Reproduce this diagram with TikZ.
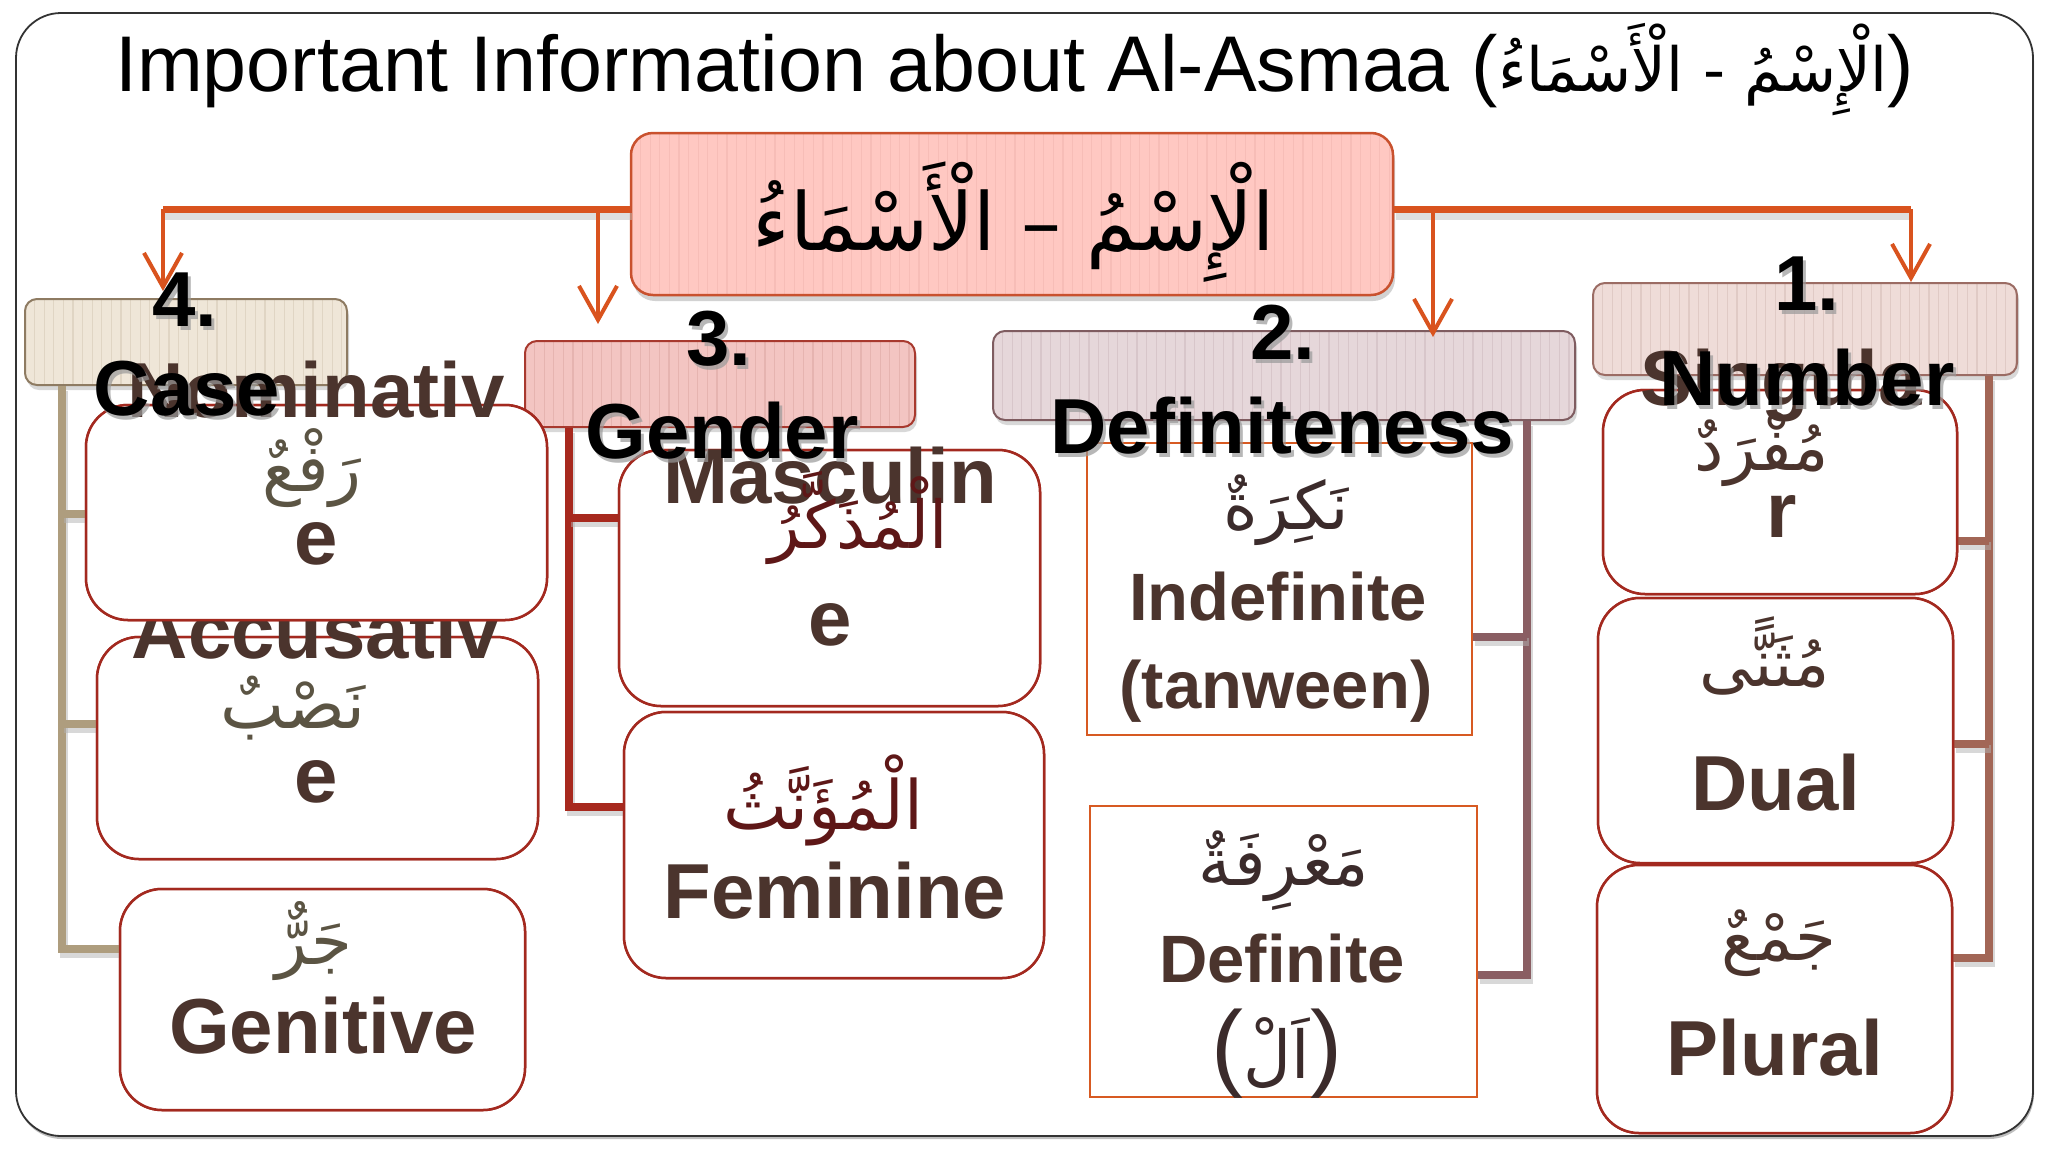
\documentclass[tikz,border=0pt]{standalone}
\usepackage{fontspec}
\setmainfont{Liberation Sans}
\newfontfamily\arabicfont[Script=Arabic]{DejaVu Sans}
\TeXXeTstate=1
\usetikzlibrary{arrows.meta,shadows,fit}
\definecolor{orangeC}{HTML}{D9531E}
\definecolor{mainFill}{HTML}{FFC8C2}
\definecolor{mainDraw}{HTML}{C9512E}
\definecolor{mainStripe}{HTML}{F7BDB7}
\definecolor{caseFill}{HTML}{EFE6D8}
\definecolor{caseDraw}{HTML}{8E7B62}
\definecolor{caseStripe}{HTML}{E0D5C4}
\definecolor{genFill}{HTML}{F3C5C2}
\definecolor{genDraw}{HTML}{A8392E}
\definecolor{genStripe}{HTML}{E6B4B0}
\definecolor{defFill}{HTML}{E6D7DA}
\definecolor{defDraw}{HTML}{7F5C60}
\definecolor{defStripe}{HTML}{D8C6CA}
\definecolor{numFill}{HTML}{EFDCD8}
\definecolor{numDraw}{HTML}{9B6C64}
\definecolor{numStripe}{HTML}{E0CAC5}
\definecolor{caseC}{HTML}{AE9D7E}
\definecolor{genC}{HTML}{A7291E}
\definecolor{defC}{HTML}{8A5E63}
\definecolor{numC}{HTML}{A26656}
\definecolor{boxDraw}{HTML}{A3291F}
\definecolor{sqDraw}{HTML}{D75A22}
\definecolor{txtBrown}{HTML}{4B342D}
\definecolor{arCase}{HTML}{5B5443}
\definecolor{arGen}{HTML}{5E1717}
\definecolor{arDef}{HTML}{3B2B2B}
\definecolor{arNum}{HTML}{4B342D}
\newcommand\hdrfont{\fontsize{78pt}{80pt}\selectfont\bfseries}
\newcommand\chfont{\fontsize{78pt}{80pt}\selectfont\bfseries}
\newcommand\chsfont{\fontsize{67pt}{70pt}\selectfont\bfseries}
\newcommand\titlefont{\fontsize{79pt}{82pt}\selectfont}
\newcommand\arsz[1]{\arabicfont\fontsize{#1}{#1}\selectfont}
\newcommand\parsz{\fontsize{96pt}{96pt}\selectfont}
\newcommand\htext[4]{\node[hdrtxt,text=black!40,opacity=0.7] (#1s) at (#2+3,#3+4) {#4};\node[hdrtxt] (#1) at (#2,#3) {#4};}
\begin{document}
\begin{tikzpicture}[x=1pt,y=-1pt,line join=miter,
  hdrtxt/.style={font=\hdrfont,anchor=base,inner sep=0pt,text=black},
  ctx/.style={font=\chfont,anchor=base,inner sep=0pt,text=txtBrown},
  csx/.style={font=\chsfont,anchor=base,inner sep=0pt,text=txtBrown},
  arx/.style={anchor=center,inner sep=0pt},
  stripes/.style={path picture={\foreach \k in {0,...,80}{\draw[draw=#1,line width=1.3pt] ([xshift=\k*9.6pt]path picture bounding box.north west) -- ([xshift=\k*9.6pt]path picture bounding box.south west);}}},
  hdr/.style 2 args={draw=#1,fill=#2,line width=2pt,rounded corners=12pt,inner sep=0pt,drop shadow={opacity=0.3,shadow xshift=2pt,shadow yshift=-5pt}},
  cbox/.style={draw=boxDraw,fill=white,line width=2.5pt,rounded corners=42pt,inner sep=0pt},
  sbox/.style={draw=sqDraw,fill=white,line width=2.5pt,inner sep=0pt},
  conn/.style={draw=#1,line width=8pt,preaction={draw=black!30,line width=8pt,opacity=0.5,transform canvas={xshift=2pt,yshift=-5pt}}},
  topbar/.style={draw=orangeC,line width=7pt,preaction={draw=black!25,line width=7pt,opacity=0.5,transform canvas={xshift=2pt,yshift=-7pt}}},
  toparr/.style={draw=orangeC,line width=4pt,-{Straight Barb[length=34pt,width=38pt,line width=4pt]}}
]
\fill[white] (0,0) rectangle (2048,1152);
\useasboundingbox (0,0) rectangle (2048,1152);
% outer frame
\draw[black!80,line width=1.8pt,fill=white,rounded corners=45pt,drop shadow={opacity=0.5,shadow xshift=1pt,shadow yshift=-3pt}] (16,13) rectangle (2033,1136);
% title
\node[anchor=base west,inner sep=0pt,font=\titlefont] (title) at (115,91) {Important Information about Al-Asmaa ({\arsz{61pt}\beginR الْإِسْمُ - الْأَسْمَاءُ\endR})};
% main box
\node[fit={(631,133) (1393,295)},draw=mainDraw,fill=mainFill,line width=2.5pt,rounded corners=22pt,inner sep=0pt,drop shadow={opacity=0.35,shadow xshift=2pt,shadow yshift=-6pt},stripes=mainStripe] (main) {};
\node[arx] (mainar) at (1014,222) {\arsz{80pt}\beginR الْإِسْمُ – الْأَسْمَاءُ\endR};
% junction coordinates
\coordinate (hL) at (163,209);
\coordinate (hG) at (598,209);
\coordinate (hD) at (1433,209);
\coordinate (hR) at (1911,209);
\coordinate (c1) at (62,514);
\coordinate (c2) at (62,724);
\coordinate (c3) at (62,949);
\coordinate (g1) at (569,518);
\coordinate (g2) at (569,807);
\coordinate (d1) at (1527,637);
\coordinate (d2) at (1527,975);
\coordinate (n1) at (1989,541);
\coordinate (n2) at (1989,744);
\coordinate (n3) at (1989,958);
% header boxes
\node[hdr={caseDraw}{caseFill},stripes=caseStripe,fit={(25,299) (347,385)}] (casehdr) {};
\node[hdr={genDraw}{genFill},stripes=genStripe,fit={(525,341) (915,427)}] (genhdr) {};
\node[hdr={defDraw}{defFill},stripes=defStripe,fit={(993,331) (1575,420)}] (defhdr) {};
\node[hdr={numDraw}{numFill},stripes=numStripe,fit={(1593,283) (2017,375)}] (numhdr) {};
% top connectors
\draw[topbar] (main.west |- hL) -- (hL);
\draw[topbar] (main.east |- hR) -- (hR);
\draw[toparr,shorten >=7pt] (hL) -- (hL |- casehdr.north);
\draw[toparr,shorten >=16pt] (hG) -- (hG |- genhdr.north);
\draw[toparr,shorten >=-7pt] (hD) -- (hD |- defhdr.north);
\draw[toparr] (hR) -- (hR |- numhdr.north);
% child boxes (placed first so connectors can reference them)
\node[cbox,fit={(97,637) (538,859)}] (acc) {};
\node[cbox,fit={(120,889) (525,1110)}] (gen) {};
\node[cbox,fit={(86,405) (547,620)}] (nom) {};
\node[cbox,fit={(619,450) (1040,706)}] (masc) {};
\node[cbox,fit={(624,712) (1044,978)}] (fem) {};
\node[sbox,fit={(1087,443) (1472,735)}] (indef) {};
\node[sbox,fit={(1090,806) (1477,1097)}] (defn) {};
\node[cbox,fit={(1603,390) (1957,594)}] (sing) {};
\node[cbox,fit={(1598,598) (1953,863)}] (dual) {};
\node[cbox,fit={(1597,865) (1952,1133)}] (plural) {};
% child connectors
\draw[conn=caseC] (casehdr.south -| c1) -- (c3) -- (gen.west |- c3);
\draw[conn=caseC] (c1) -- (nom.west |- c1);
\draw[conn=caseC] (c2) -- (acc.west |- c2);
\draw[conn=genC] (genhdr.south -| g1) -- (g2) -- (fem.west |- g2);
\draw[conn=genC] (g1) -- (masc.west |- g1);
\draw[conn=defC] (defhdr.south -| d1) -- (d2) -- (defn.east |- d2);
\draw[conn=defC] (d1) -- (indef.east |- d1);
\draw[conn=numC] (numhdr.south -| n1) -- (n3) -- (plural.east |- n3);
\draw[conn=numC] (n1) -- (sing.east |- n1);
\draw[conn=numC] (n2) -- (dual.east |- n2);
% redraw child boxes over connector ends, with texts
\node[cbox,fit={(97,637) (538,859)}] (accB) {};
\node[ctx] (acct) at (316,658) {Accusativ};
\node[arx,text=arCase] (accar) at (293,708) {\arsz{68pt}\beginR نَصْبٌ\endR};
\node[ctx] (acce) at (316,802) {e};
\node[cbox,fit={(86,405) (547,620)}] (nomB) {};
\node[ctx] (nomt) at (316,417) {Nominativ};
\node[arx,text=arCase] (nomar) at (312,468) {\arsz{66pt}\beginR رَفْعٌ\endR};
\node[ctx] (nome) at (316,564) {e};
\node[cbox,fit={(120,889) (525,1110)}] (genB) {};
\node[arx,text=arCase] (genar) at (314,941) {\arsz{66pt}\beginR جَرٌّ\endR};
\node[ctx] (gent) at (323,1053) {Genitive};
\node[cbox,fit={(619,450) (1040,706)}] (mascB) {};
\node[ctx] (masct) at (830,503) {Masculin};
\node[arx,text=arGen] (mascar) at (858,518) {\arsz{66pt}\beginR الْمُذَكَّرُ\endR};
\node[ctx] (masce) at (830,645) {e};
\node[cbox,fit={(624,712) (1044,978)}] (femB) {};
\node[arx,text=arGen] (femar) at (823,800) {\arsz{68pt}\beginR الْمُؤَنَّثُ\endR};
\node[ctx] (femt) at (835,918) {Feminine};
\node[sbox,fit={(1087,443) (1472,735)}] (indefB) {};
\node[arx,text=arDef] (indefar) at (1286,510) {\arsz{66pt}\beginR نَكِرَةٌ\endR};
\node[csx] (indeft) at (1278,620) {Indefinite};
\node[csx] (indeft2) at (1276,708) {(tanween)};
\node[sbox,fit={(1090,806) (1477,1097)}] (defnB) {};
\node[arx,text=arDef] (defar) at (1284,871) {\arsz{66pt}\beginR مَعْرِفَةٌ\endR};
\node[csx] (deft) at (1282,982) {Definite};
\node[arx,text=arDef] (defal) at (1277,1054) {{\parsz(}{\arsz{66pt}\beginR اَلْ\endR}{\parsz)}};
\node[cbox,fit={(1603,390) (1957,594)}] (singB) {};
\node[ctx] (singt) at (1781,405) {Singula};
\node[arx,text=arNum] (singar) at (1762,450) {\arsz{66pt}\beginR مُفْرَدٌ\endR};
\node[ctx] (singr) at (1782,537) {r};
\node[cbox,fit={(1598,598) (1953,863)}] (dualB) {};
\node[arx,text=arNum] (dualar) at (1765,656) {\arsz{66pt}\beginR مُثَنًّى\endR};
\node[ctx] (dualt) at (1776,810) {Dual};
\node[cbox,fit={(1597,865) (1952,1133)}] (pluralB) {};
\node[arx,text=arNum] (pluralar) at (1779,943) {\arsz{66pt}\beginR جَمْعٌ\endR};
\node[ctx] (pluralt) at (1775,1075) {Plural};
% header texts
\htext{t4}{185}{326}{4.}
\htext{tcase}{187}{415}{Case}
\htext{t3}{719}{365}{3.}
\htext{tgen}{722}{458}{Gender}
\htext{t2}{1283}{359}{2.}
\htext{tdef}{1282}{453}{Definiteness}
\htext{t1}{1807}{310}{1.}
\htext{tnum}{1807}{405}{Number}
\end{tikzpicture}
\end{document}
